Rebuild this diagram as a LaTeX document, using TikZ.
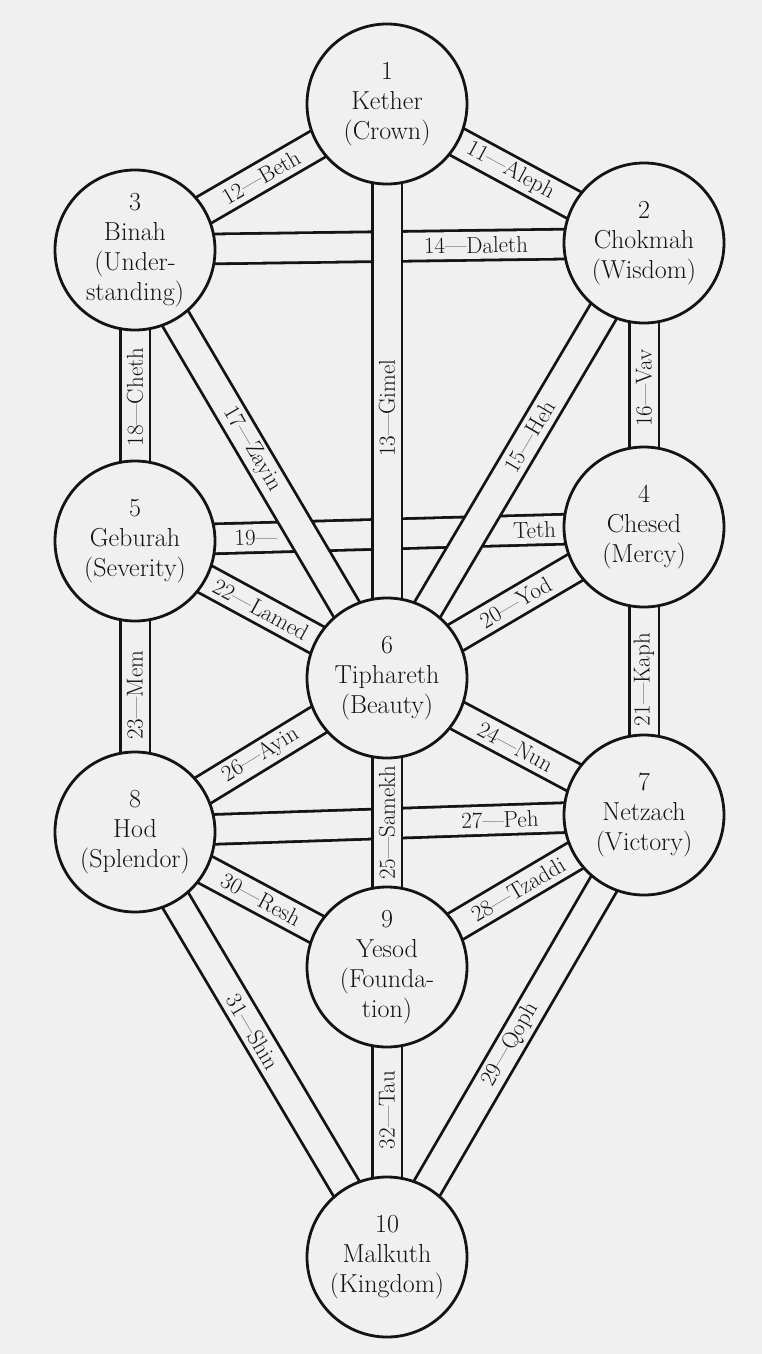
\documentclass[tikz,border=0pt]{standalone}
\usepackage{xcolor}
\usetikzlibrary{backgrounds}

\definecolor{paper}{HTML}{F0F0F0}
\definecolor{ink}{HTML}{141414}

\tikzset{
  sephira/.style={circle, draw=ink, line width=2.8pt, fill=paper, minimum size=160pt,
    inner sep=0pt, align=center, text=ink, font=\fontsize{26}{30}\selectfont},
  channel/.style={draw=ink, line width=2.8pt, double=paper, double distance=27pt},
  pathlabel/.style={inner sep=0pt, text=ink, font=\fontsize{23}{23}\selectfont},
}

\begin{document}
\begin{tikzpicture}[x=1pt,y=-1pt]

\node[sephira] (kether)    at (387,104)  {1\\Kether\\(Crown)};              %1
\node[sephira] (chokmah)   at (644,243)  {2\\Chokmah\\(Wisdom)};            %2
\node[sephira] (binah)     at (135,250)  {3\\Binah\\(Under-\\standing)};    %3
\node[sephira] (chesed)    at (644,527)  {4\\Chesed\\(Mercy)};              %4
\node[sephira] (geburah)   at (135,541)  {5\\Geburah\\(Severity)};          %5
\node[sephira] (tiphareth) at (387,678)  {6\\Tiphareth\\(Beauty)};          %6
\node[sephira] (netzach)   at (644,815)  {7\\Netzach\\(Victory)};           %7
\node[sephira] (hod)       at (135,832)  {8\\Hod\\(Splendor)};              %8
\node[sephira] (yesod)     at (387,967)  {9\\Yesod\\(Founda-\\tion)};       %9
\node[sephira] (malkuth)   at (387,1257) {10\\Malkuth\\(Kingdom)};          %10

\begin{scope}[on background layer]
\fill[paper] (0,0) rectangle (762,1354); %paper

% horizontal paths first, the others cross over them
\draw[channel] (binah.center) -- node[pathlabel, pos=0.67, sloped] (p14) {14\textemdash Daleth} (chokmah.center); %14
\draw[channel] (geburah.center) -- node[pathlabel, pos=0.237, sloped] (p19a) {19\textemdash}
  node[pathlabel, pos=0.785, sloped] (p19b) {Teth} (chesed.center); %19
\draw[channel] (hod.center) -- node[pathlabel, pos=0.717, sloped] (p27) {27\textemdash Peh} (netzach.center); %27

\draw[channel] (kether.center) -- node[pathlabel, pos=0.48, sloped] (p11) {11\textemdash Aleph} (chokmah.center); %11
\draw[channel] (binah.center) -- node[pathlabel, pos=0.5, sloped] (p12) {12\textemdash Beth} (kether.center); %12
\draw[channel] (tiphareth.center) -- node[pathlabel, pos=0.47, rotate=90] (p13) {13\textemdash Gimel} (kether.center); %13
\draw[channel] (tiphareth.center) -- node[pathlabel, pos=0.556, sloped] (p15) {15\textemdash Heh} (chokmah.center); %15
\draw[channel] (chesed.center) -- node[pathlabel, pos=0.49, rotate=90] (p16) {16\textemdash Vav} (chokmah.center); %16
\draw[channel] (binah.center) -- node[pathlabel, pos=0.465, sloped] (p17) {17\textemdash Zayin} (tiphareth.center); %17
\draw[channel] (geburah.center) -- node[pathlabel, pos=0.495, rotate=90] (p18) {18\textemdash Cheth} (binah.center); %18
\draw[channel] (tiphareth.center) -- node[pathlabel, pos=0.5, sloped] (p20) {20\textemdash Yod} (chesed.center); %20
\draw[channel] (netzach.center) -- node[pathlabel, pos=0.47, rotate=90] (p21) {21\textemdash Kaph} (chesed.center); %21
\draw[channel] (geburah.center) -- node[pathlabel, pos=0.5, sloped] (p22) {22\textemdash Lamed} (tiphareth.center); %22
\draw[channel] (hod.center) -- node[pathlabel, pos=0.47, rotate=90] (p23) {23\textemdash Mem} (geburah.center); %23
\draw[channel] (tiphareth.center) -- node[pathlabel, pos=0.5, sloped] (p24) {24\textemdash Nun} (netzach.center); %24
\draw[channel] (yesod.center) -- node[pathlabel, pos=0.5, rotate=90] (p25) {25\textemdash Samekh} (tiphareth.center); %25
\draw[channel] (hod.center) -- node[pathlabel, pos=0.5, sloped] (p26) {26\textemdash Ayin} (tiphareth.center); %26
\draw[channel] (yesod.center) -- node[pathlabel, pos=0.51, sloped] (p28) {28\textemdash Tzaddi} (netzach.center); %28
\draw[channel] (malkuth.center) -- node[pathlabel, pos=0.48, sloped] (p29) {29\textemdash Qoph} (netzach.center); %29
\draw[channel] (hod.center) -- node[pathlabel, pos=0.5, sloped] (p30) {30\textemdash Resh} (yesod.center); %30
\draw[channel] (hod.center) -- node[pathlabel, pos=0.47, sloped] (p31) {31\textemdash Shin} (malkuth.center); %31
\draw[channel] (malkuth.center) -- node[pathlabel, pos=0.507, rotate=90] (p32) {32\textemdash Tau} (yesod.center); %32
\end{scope}

\end{tikzpicture}
\end{document}
